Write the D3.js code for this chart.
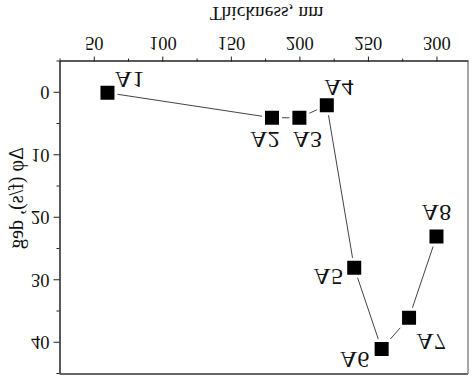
<!DOCTYPE html>
<html>
<head>
<meta charset="utf-8">
<script src="https://cdn.jsdelivr.net/npm/d3@7"></script>
<style>
  html, body { margin: 0; padding: 0; background: #fff; }
  svg { display: block; }
  text { font-family: "Liberation Serif", "Times New Roman", serif; fill: #111; }
</style>
</head>
<body>
<div id="chart"></div>
<script>
// ---- data ----
const sampleNames = ["A1", "A2", "A3", "A4", "A5", "A6", "A7", "A8"];
const thickness   = [60, 180, 200, 220, 240, 260, 280, 300];
const phaseDiff   = [0, 4, 4, 2, 28, 41, 36, 23];
const xTickValues = [50, 100, 150, 200, 250, 300];
const yTickValues = [0, 10, 20, 30, 40];
const xTitle = "Thickness, nm";
const yTitle = "Δφ (f/s), deg";

// ---- layout (label offsets, in unflipped drawing space) ----
const labelOffsets = [[22, 13], [-7, -22], [8, -22], [12, 17], [-26, -9], [-27, -11], [22, -24], [0, 24]];

const W = 474, H = 378;
const mLeft = 59.5, mRight = 468, mTop = 4, mBottom = 316.5;

const svg = d3.select("#chart").append("svg").attr("width", W).attr("height", H);
// The reference picture is mirrored vertically: draw normally, then flip.
const g = svg.append("g").attr("transform", `translate(0,${H}) scale(1,-1)`);

const x = d3.scaleLinear().domain([25, 323]).range([mLeft, mRight]);
const y = d3.scaleLinear().domain([-5, 45]).range([mBottom, mTop]);

// frame (top and right)
g.append("line").attr("x1", mLeft).attr("x2", mRight).attr("y1", mTop).attr("y2", mTop)
  .attr("stroke", "#333").attr("stroke-width", 1.5);
g.append("line").attr("x1", mRight).attr("x2", mRight).attr("y1", mTop).attr("y2", mBottom)
  .attr("stroke", "#888").attr("stroke-width", 1.5);

// x axis
const xMinor = d3.range(25, 325, 50).filter(v => !xTickValues.includes(v));
g.append("g").attr("transform", `translate(0,${mBottom})`)
  .call(d3.axisBottom(x).tickValues(xMinor).tickSize(3).tickFormat(""))
  .call(s => s.select(".domain").remove())
  .selectAll("line").attr("stroke", "#222");
const xAx = g.append("g").attr("transform", `translate(0,${mBottom})`)
  .call(d3.axisBottom(x).tickValues(xTickValues).tickSize(5).tickPadding(6).tickSizeOuter(0));
xAx.select(".domain").attr("stroke", "#222").attr("stroke-width", 1.5);
xAx.selectAll("line").attr("stroke", "#222");
xAx.selectAll("text").attr("font-size", 18.5).style("font-family", "Liberation Serif");

// y axis
const yMinor = d3.range(-5, 50, 10);
g.append("g").attr("transform", `translate(${mLeft},0)`)
  .call(d3.axisLeft(y).tickValues(yMinor).tickSize(3).tickFormat(""))
  .call(s => s.select(".domain").remove())
  .selectAll("line").attr("stroke", "#222");
const yAx = g.append("g").attr("transform", `translate(${mLeft},0)`)
  .call(d3.axisLeft(y).tickValues(yTickValues).tickSize(6).tickPadding(4).tickSizeOuter(0));
yAx.select(".domain").attr("stroke", "#222").attr("stroke-width", 1.5);
yAx.selectAll("line").attr("stroke", "#222");
yAx.selectAll("text").attr("font-size", 18.5).style("font-family", "Liberation Serif");

// titles
g.append("text").attr("x", 266.5).attr("y", 371.5).attr("text-anchor", "middle")
  .attr("font-size", 19.5).text(xTitle);
g.append("text").attr("transform", `translate(23,180) rotate(-90)`).attr("text-anchor", "middle")
  .attr("font-size", 20).text(yTitle);

// data
const pts = thickness.map((t, i) => ({ name: sampleNames[i], x: t, y: phaseDiff[i], off: labelOffsets[i] }));

g.append("path").datum(pts)
  .attr("d", d3.line().x(d => x(d.x)).y(d => y(d.y)))
  .attr("fill", "none").attr("stroke", "#444").attr("stroke-width", 1);

const S = 14, halo = 20;
g.selectAll("rect.halo").data(pts).join("rect").attr("class", "halo")
  .attr("x", d => x(d.x) - halo / 2).attr("y", d => y(d.y) - halo / 2)
  .attr("width", halo).attr("height", halo).attr("fill", "#fff");
g.selectAll("rect.mk").data(pts).join("rect").attr("class", "mk")
  .attr("x", d => x(d.x) - S / 2).attr("y", d => y(d.y) - S / 2)
  .attr("width", S).attr("height", S).attr("fill", "#000");

g.selectAll("text.lbl").data(pts).join("text").attr("class", "lbl")
  .attr("x", d => x(d.x) + d.off[0])
  .attr("y", d => y(d.y) + d.off[1] + 8)
  .attr("text-anchor", "middle")
  .attr("font-size", 24)
  .text(d => d.name);
</script>
</body>
</html>
